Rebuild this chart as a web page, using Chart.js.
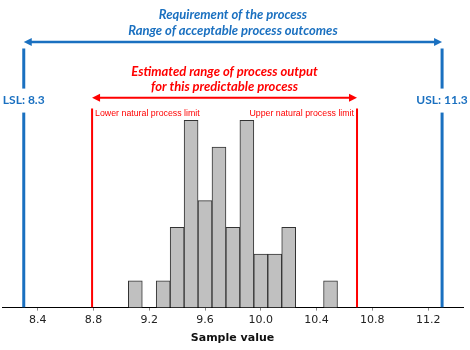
<!DOCTYPE html>
<html><head><meta charset="utf-8">
<script src="https://cdn.jsdelivr.net/npm/chart.js@4/dist/chart.umd.min.js"></script>
<style>html,body{margin:0;padding:0;background:#fff}#wrap{width:470px;height:350px;position:relative}</style>
</head><body><div id="wrap"><canvas id="c"></canvas></div>
<script>
// ---- data ----
const binCenters = [9.1, 9.3, 9.4, 9.5, 9.6, 9.7, 9.8, 9.9, 10.0, 10.1, 10.2, 10.5];
const binCounts  = [1, 1, 3, 7, 4, 6, 3, 7, 2, 2, 3, 1];
const xTicks = [8.4, 8.8, 9.2, 9.6, 10.0, 10.4, 10.8, 11.2];
const specLimits = [8.3, 11.3];
const specLabels = ['LSL: 8.3', 'USL: 11.3'];
const naturalLimits = [8.79, 10.69];
const naturalLabels = ['Lower natural process limit', 'Upper natural process limit'];
const specTitle = ['Requirement of the process', 'Range of acceptable process outcomes'];
const naturalTitle = ['Estimated range of process output', 'for this predictable process'];
const xTitle = 'Sample value';

// ---- layout (vertical placement in count units) ----
const L = {
  specLineTop: 9.69, specArrowY: 9.93, specTitleY: [10.96, 10.36], specLabelY: 7.74,
  natLineTop: 7.44, natArrowY: 7.85, natTitleY: [8.83, 8.27], natLabelY: 7.27
};
const BLUE = '#1a70c0', RED = '#ff0000';

function arrow(ctx, x1, x2, y, color, w, hl, hw) {
  ctx.strokeStyle = color; ctx.fillStyle = color; ctx.lineWidth = w;
  ctx.beginPath(); ctx.moveTo(x1 + hl - 1, y); ctx.lineTo(x2 - hl + 1, y); ctx.stroke();
  ctx.beginPath(); ctx.moveTo(x1, y); ctx.lineTo(x1 + hl, y - hw); ctx.lineTo(x1 + hl, y + hw); ctx.closePath(); ctx.fill();
  ctx.beginPath(); ctx.moveTo(x2, y); ctx.lineTo(x2 - hl, y - hw); ctx.lineTo(x2 - hl, y + hw); ctx.closePath(); ctx.fill();
}

const annot = {
  id: 'annot',
  afterDatasetsDraw(chart) {
    const { ctx, scales: { x, y } } = chart;
    const W = chart.width;
    ctx.save();
    const sx = specLimits.map(v => x.getPixelForValue(v));
    arrow(ctx, sx[0], sx[1], y.getPixelForValue(L.specArrowY), BLUE, 2.5, 8, 4);
    ctx.textAlign = 'center'; ctx.textBaseline = 'middle';
    ctx.fillStyle = BLUE; ctx.font = 'italic bold 13px Lato';
    const smid = x.getPixelForValue((specLimits[0] + specLimits[1]) / 2);
    specTitle.forEach((t, i) => ctx.fillText(t, smid, y.getPixelForValue(L.specTitleY[i])));
    ctx.font = 'bold 12px Lato';
    specLabels.forEach((t, i) => {
      const w = ctx.measureText(t).width;
      let cx = sx[i];
      cx = Math.max(w / 2 + 2, Math.min(W - w / 2 - 2, cx));
      const cy = y.getPixelForValue(L.specLabelY);
      ctx.fillStyle = '#fff'; ctx.fillRect(cx - w / 2 - 1, cy - 12, w + 2, 24);
      ctx.fillStyle = BLUE; ctx.fillText(t, cx, cy);
    });
    const nx = naturalLimits.map(v => x.getPixelForValue(v));
    arrow(ctx, nx[0], nx[1], y.getPixelForValue(L.natArrowY), RED, 2, 8, 4);
    ctx.fillStyle = RED; ctx.font = 'italic bold 13px Lato';
    const nmid = x.getPixelForValue((naturalLimits[0] + naturalLimits[1]) / 2);
    naturalTitle.forEach((t, i) => ctx.fillText(t, nmid, y.getPixelForValue(L.natTitleY[i])));
    ctx.font = '8.8px "Liberation Sans"';
    const ly = y.getPixelForValue(L.natLabelY);
    ctx.textAlign = 'left'; ctx.fillText(naturalLabels[0], nx[0] + 3, ly);
    ctx.textAlign = 'right'; ctx.fillText(naturalLabels[1], nx[1] - 3, ly);
    ctx.restore();
  }
};

function vline(v, top, color, w) {
  return { type: 'line', data: [{ x: v, y: 0 }, { x: v, y: top }], borderColor: color, borderWidth: w,
    pointRadius: 0, fill: false, order: 0 };
}

new Chart(document.getElementById('c'), {
  type: 'bar',
  data: {
    datasets: [
      { type: 'bar', data: binCenters.map((c, i) => ({ x: c, y: binCounts[i] })),
        backgroundColor: '#c0c0c0', borderColor: '#333333', borderWidth: 1,
        barPercentage: 1, categoryPercentage: 1, order: 1 },
      vline(specLimits[0], L.specLineTop, BLUE, 3),
      vline(specLimits[1], L.specLineTop, BLUE, 3),
      vline(naturalLimits[0], L.natLineTop, RED, 2),
      vline(naturalLimits[1], L.natLineTop, RED, 2)
    ]
  },
  options: {
    responsive: true, maintainAspectRatio: false, animation: false,
    layout: { padding: { left: 2, right: 7, top: 0, bottom: 5 } },
    plugins: { legend: { display: false }, tooltip: { enabled: false } },
    scales: {
      x: {
        type: 'linear', min: 8.144, max: 11.45, offset: false,
        afterBuildTicks: ax => { ax.ticks = xTicks.map(v => ({ value: v })); },
        grid: { display: true, offset: false, drawOnChartArea: false, tickLength: 3, color: '#888' },
        border: { display: true, color: '#000', width: 1 },
        ticks: { padding: 3, color: '#222', font: { family: 'DejaVu Sans', size: 11 },
          maxRotation: 0, autoSkip: false, callback: v => v.toFixed(1) },
        title: { display: true, text: xTitle, color: '#111', padding: { top: 2, bottom: 0 },
          font: { family: 'DejaVu Sans', size: 11, weight: 'bold' } }
      },
      y: { display: false, min: 0, max: 11.5 }
    }
  },
  plugins: [annot]
});
</script>
</body></html>
